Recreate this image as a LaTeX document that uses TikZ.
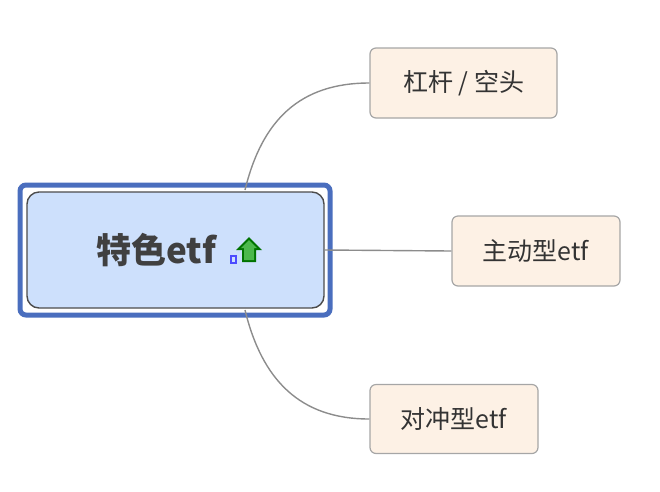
\documentclass[tikz,border=0pt]{standalone}
\usepackage{fontspec}
\newfontfamily\cjk{Noto Sans CJK SC}
\definecolor{outerb}{RGB}{74,110,190}
\definecolor{cfill}{RGB}{205,224,252}
\definecolor{sfill}{RGB}{253,241,229}
\begin{document}
\begin{tikzpicture}[x=1pt,y=-1pt,
  sub/.style={draw=gray!70,fill=sfill,rounded corners=6pt,line width=1.2pt,font=\cjk\fontsize{25}{28}\selectfont,text=black!80},
  conn/.style={draw=gray!90,line width=1.4pt}]
\useasboundingbox (0,0) rectangle (660,491);
\draw[draw=outerb,line width=5pt,rounded corners=6pt] (20,185) rectangle (330,315);
\node[draw=gray!60!black,fill=cfill,rounded corners=12pt,line width=1.4pt,minimum width=297pt,minimum height=116pt] (c) at (175.5,250) {};
\node[font=\cjk\bfseries\fontsize{35}{38}\selectfont,text=black!75] (t) at (156,250) {特色etf};
\fill[green!45!black] (242,262) -- (242,250) -- (236,250) -- (249,237) -- (262,250) -- (256,250) -- (256,262) -- cycle;
\fill[green!60!black!70!white] (244,260) -- (244,248) -- (241,248) -- (249,240) -- (257,248) -- (254,248) -- (254,260) -- cycle;
\draw[blue!70,line width=1.2pt] (231,256) rectangle (236,263);
\node[sub,minimum width=187pt,minimum height=70pt] (a) at (463.5,83) {杠杆 / 空头};
\node[sub,minimum width=168pt,minimum height=70pt] (b) at (536,251) {主动型etf};
\node[sub,minimum width=168pt,minimum height=69pt] (d) at (454,419) {对冲型etf};
\coordinate (p1) at (245,190);
\coordinate (p3) at (245,310);
\draw[conn] (p1) .. controls (262,120) and (300,83) .. (a.west);
\draw[conn] (c.east) -- (b.west);
\draw[conn] (p3) .. controls (262,380) and (300,419) .. (d.west);
\end{tikzpicture}
\end{document}
